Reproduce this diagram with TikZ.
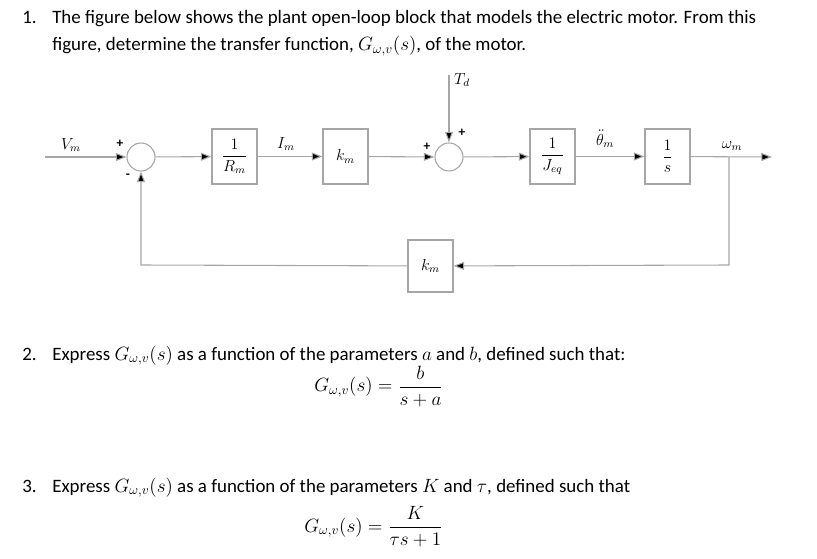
\documentclass[tikz,border=0pt]{standalone}
\usepackage{fontspec}
\usepackage{amsmath}
\setmainfont{Carlito}
\usetikzlibrary{arrows.meta}
\begin{document}
\begin{tikzpicture}[x=0.75pt,y=-0.75pt,
  blk/.style={draw=gray!70,line width=0.8pt,minimum width=45*0.75pt,minimum height=55*0.75pt,inner sep=0pt,font=\large},
  sumc/.style={circle,draw=gray!70,line width=0.8pt,minimum size=28*0.75pt,inner sep=0pt},
  ln/.style={draw=gray!70,line width=0.8pt},
  ar/.style={ln,-{Triangle[length=8pt,width=6pt,fill=black]}},
  sig/.style={font=\large},
  txt/.style={anchor=base west,inner sep=0pt,font=\fontsize{14.2}{16}\selectfont}]
\useasboundingbox (0,0) rectangle (817,559);
% texts
\node[txt] at (22,24) {1.};
\node[txt] at (52,24) {The figure below shows the plant open-loop block that models the electric motor. From this};
\node[txt] at (52,51) {figure, determine the transfer function, $G_{\omega,v}(s)$, of the motor.};
\node[txt] at (22,360) {2.};
\node[txt] at (52,360) {Express $G_{\omega,v}(s)$ as a function of the parameters $a$ and $b$, defined such that:};
\node[txt] at (314,392) {$G_{\omega,v}(s)=\dfrac{b}{s+a}$};
\node[txt] at (22,492) {3.};
\node[txt] at (52,492) {Express $G_{\omega,v}(s)$ as a function of the parameters $K$ and $\tau$, defined such that};
\node[txt] at (304,532) {$G_{\omega,v}(s)=\dfrac{K}{\tau s+1}$};
% diagram
\coordinate (in) at (45,157);
\node[sumc] (s1) at (141,157) {};
\node[blk] (r) at (234.5,156.5) {$\dfrac{1}{R_m}$};
\node[blk] (k) at (345.5,156.5) {$k_m$};
\node[sumc] (s2) at (449,157) {};
\coordinate (td) at (449,75);
\node[blk] (j) at (552.5,156.5) {$\dfrac{1}{J_{eq}}$};
\node[blk] (ss) at (667.5,156.5) {$\dfrac{1}{s}$};
\coordinate (out) at (772,157);
\coordinate (br) at (729,157);
\coordinate (bd) at (729,265);
\node[blk,minimum height=52*0.75pt] (kf) at (430.5,266) {$k_m$};
\coordinate (bl) at (141,265);
\draw[ar] (in) -- (s1);
\draw[ar] (s1) -- (r);
\draw[ar] (r) -- (k);
\draw[ar] (k) -- (s2);
\draw[ar] (td) -- (s2);
\draw[ar] (s2) -- (j);
\draw[ar] (j) -- (ss);
\draw[ar] (ss) -- (out);
\draw[ar] (br) -- (bd) -- (kf);
\draw[ar] (kf) -- (bl) -- (s1);
\node[sig] at (71,145) {$V_m$};
\node[sig] at (286,144) {$I_m$};
\node[sig] at (605,139) {$\ddot\theta_m$};
\node[sig] at (732,146) {$\omega_m$};
\node[sig] at (462,80) {$T_d$};
\node[font=\bfseries] at (120,144) {+};
\node[font=\bfseries] at (128,176) {-};
\node[font=\bfseries] at (427,147) {+};
\node[font=\bfseries] at (462,133) {+};
\end{tikzpicture}
\end{document}
